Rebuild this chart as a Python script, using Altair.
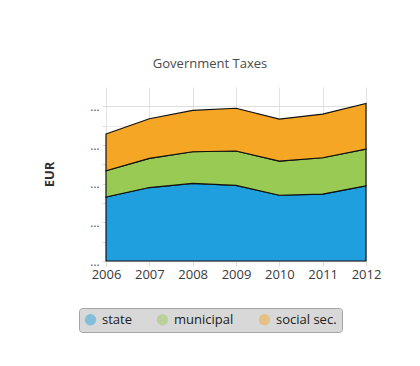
import altair as alt
import pandas as pd

years = [2006, 2007, 2008, 2009, 2010, 2011, 2012]
series_names = ["state", "municipal", "social sec."]
state = [33100, 38000, 40100, 39100, 34000, 34600, 38900]
municipal = [13600, 15100, 16400, 17800, 17700, 18800, 19000]
social_sec = [19000, 20500, 21400, 22100, 21700, 22600, 23600]
colors = ["#209fdf", "#99ca53", "#f6a625"]
y_ticks = [0, 10000, 20000, 30000, 40000, 50000, 60000, 70000, 80000]

rows = []
for idx, (name, vals) in enumerate(zip(series_names, [state, municipal, social_sec])):
    for yr, v in zip(years, vals):
        rows.append({"year": yr, "series": name, "value": v, "idx": idx})
df = pd.DataFrame(rows)

FONT = "Open Sans"

chart = alt.Chart(df).mark_area(
    stroke="#111111", strokeWidth=1.2, interpolate="linear"
).encode(
    x=alt.X("year:Q", scale=alt.Scale(domain=[2006, 2012], nice=False, zero=False),
            axis=alt.Axis(values=years, format="d", title=None, grid=True,
                          gridColor="#e2e2e2", tickColor="#dddddd", tickSize=5,
                          labelPadding=2, labelFontSize=13, labelColor="#3a3a3a",
                          labelFont=FONT, domain=False, labelFlush=False)),
    y=alt.Y("value:Q", stack="zero", scale=alt.Scale(domain=[0, 90000], nice=False),
            axis=alt.Axis(values=y_ticks, title="EUR", grid=True,
                          gridColor={"condition": {"test": "datum.value % 20000 === 0", "value": "#dedede"}, "value": "#ececec"},
                          tickColor="#dddddd", tickSize=4, labelPadding=3,
                          labelExpr="datum.value % 20000 === 0 ? '…' : ''",
                          labelFontSize=12, labelColor="#555555", labelFont=FONT,
                          domain=False, titleFont=FONT, titleFontSize=13,
                          titleFontWeight="bold", titleColor="#303030",
                          titleX=-57, titleY=87, titleAlign="center",
                          titleBaseline="middle", titleAngle=270)),
    color=alt.Color("series:N", scale=alt.Scale(domain=series_names, range=colors),
                    legend=alt.Legend(title=None, orient="none", legendX=-27, legendY=221,
                                      direction="horizontal", symbolType="circle",
                                      symbolSize=130, symbolOpacity=0.45,
                                      symbolStrokeWidth=0, labelFontSize=13,
                                      labelFont=FONT, labelColor="#202020",
                                      columnPadding=24, labelOffset=5,
                                      fillColor="#d8d8d8", strokeColor="#a5a5a5",
                                      cornerRadius=3, padding=5)),
    order=alt.Order("idx:Q"),
).properties(
    width=260, height=174,
    title=alt.TitleParams("Government Taxes", fontSize=13, font=FONT,
                          fontWeight="normal", color="#4a4a4a", dx=-26,
                          offset=16, anchor="middle"),
    autosize=alt.AutoSizeParams(type="none"),
    padding={"left": 98, "top": 79, "right": 46, "bottom": 97},
    background="white",
).configure_view(stroke=None)

chart.save("out.html", embed_options={"renderer": "svg", "actions": False})
